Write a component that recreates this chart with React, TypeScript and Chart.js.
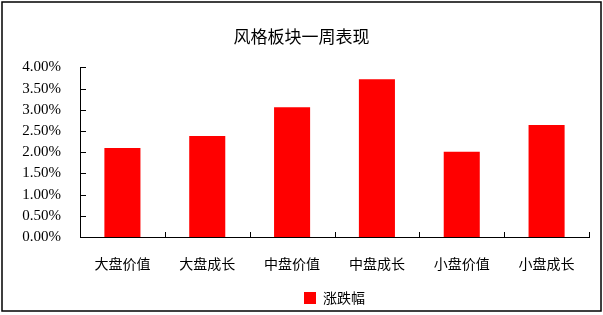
import React, { useEffect, useRef } from "react";
import { Chart, registerables } from "chart.js";

Chart.register(...registerables);

const titleText = "风格板块一周表现";
const categories = ["大盘价值", "大盘成长", "中盘价值", "中盘成长", "小盘价值", "小盘成长"];
const seriesName = "涨跌幅";
const values = [2.1, 2.38, 3.06, 3.72, 2.01, 2.64];
const yMin = 0;
const yMax = 4;
const yStep = 0.5;

const framePlugin = {
  id: "frame",
  afterLayout(chart: any) {
    const lg = chart.legend;
    if (lg) {
      lg.left += 33;
      lg.right += 33;
    }
  },
  beforeDraw(chart: any) {
    const { ctx, width, height } = chart;
    ctx.save();
    ctx.fillStyle = "#fff";
    ctx.fillRect(0, 0, width, height);
    ctx.restore();
  },
  afterDraw(chart: any) {
    const { ctx, chartArea } = chart;
    const ys = chart.scales.y;
    ctx.save();
    ctx.strokeStyle = "#000";
    ctx.lineWidth = 1;
    const n = categories.length;
    const w = (chartArea.right - chartArea.left) / n;
    for (let i = 1; i <= n; i++) {
      const x = Math.round(chartArea.left + i * w) + 0.5;
      ctx.beginPath();
      ctx.moveTo(x, chartArea.bottom);
      ctx.lineTo(x, chartArea.bottom - 5);
      ctx.stroke();
    }
    ys.ticks.forEach((t: any) => {
      const y = Math.round(ys.getPixelForValue(t.value)) + 0.5;
      ctx.beginPath();
      ctx.moveTo(chartArea.left, y);
      ctx.lineTo(chartArea.left + 6, y);
      ctx.stroke();
    });
    ctx.lineWidth = 1.5;
    ctx.strokeRect(2, 2, 599, 309);
    ctx.restore();
  },
};

export default function App() {
  const ref = useRef<HTMLCanvasElement>(null);
  useEffect(() => {
    if (!ref.current) return;
    const chart = new Chart(ref.current, {
      type: "bar",
      data: {
        labels: categories,
        datasets: [
          {
            label: seriesName,
            data: values,
            backgroundColor: "#FF0000",
            borderWidth: 0,
            barPercentage: 0.425,
            categoryPercentage: 1,
          },
        ],
      },
      options: {
        responsive: false,
        animation: false,
        layout: { padding: { top: 0, right: 14, bottom: 0, left: 14 } },
        plugins: {
          title: {
            display: true,
            text: titleText,
            color: "#000",
            font: { family: "'Noto Sans CJK SC'", size: 17, weight: "normal", lineHeight: 1.2 },
            padding: { top: 26, bottom: 21 },
          },
          legend: {
            display: true,
            position: "bottom",
            labels: {
              color: "#000",
              boxWidth: 12,
              boxHeight: 12,
              padding: 10,
              font: { family: "'Noto Sans CJK SC'", size: 14 },
            },
          },
          tooltip: { enabled: false },
        },
        scales: {
          x: {
            grid: { display: false, drawTicks: false },
            border: { display: true, color: "#000", width: 1 },
            ticks: {
              color: "#000",
              padding: 18,
              maxRotation: 0,
              font: { family: "'Noto Sans CJK SC'", size: 14 },
            },
            afterFit: (s: any) => {
              s.height = 44;
            },
          },
          y: {
            min: yMin,
            max: yMax,
            grid: { display: false, drawTicks: false },
            border: { display: true, color: "#000", width: 1 },
            ticks: {
              stepSize: yStep,
              color: "#000",
              padding: 19,
              font: { family: "'Liberation Serif'", size: 15 },
              callback: (v: any) => Number(v).toFixed(2) + "%",
            },
            afterFit: (s: any) => {
              s.width = 66;
            },
          },
        },
      },
      plugins: [framePlugin],
    });
    return () => chart.destroy();
  }, []);
  return (
    <div style={{ position: "absolute", left: 0, top: 0, width: 603, height: 315 }}>
      <canvas ref={ref} width={603} height={315} style={{ display: "block" }} />
    </div>
  );
}
